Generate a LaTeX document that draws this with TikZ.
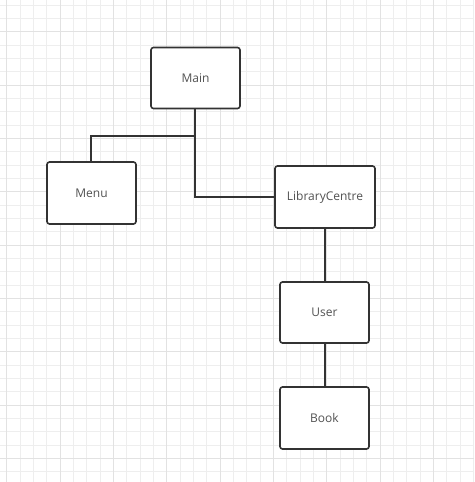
\documentclass[tikz,border=0pt]{standalone}
\usepackage{fontspec}
\setmainfont{Open Sans}
\definecolor{minorg}{HTML}{EEEEEE}
\definecolor{majorg}{HTML}{E2E2E2}
\definecolor{ink}{HTML}{333333}
\begin{document}
\begin{tikzpicture}[x=1pt,y=-1pt,
  box/.style={draw=ink,line width=1.6pt,rounded corners=2.5pt,fill=white,inner sep=0pt,font=\fontsize{12}{14}\selectfont,text=ink!85},
  link/.style={draw=ink,line width=1.6pt}]
\useasboundingbox (0,0) rectangle (474,482);
\fill[white] (0,0) rectangle (474,482);
% grid
\foreach \i in {0,...,35} {
  \pgfmathsetmacro{\xx}{6.67+13.333*\i}
  \draw[minorg,line width=0.8pt] (\xx,0) -- (\xx,482);
  \pgfmathsetmacro{\yy}{5+13.333*\i}
  \draw[minorg,line width=0.8pt] (0,\yy) -- (474,\yy);
}
\foreach \i in {0,...,9} {
  \pgfmathsetmacro{\xx}{6.67+53.333*\i}
  \draw[majorg,line width=0.9pt] (\xx,0) -- (\xx,482);
  \pgfmathsetmacro{\yy}{31.67+53.333*\i}
  \draw[majorg,line width=0.9pt] (0,\yy) -- (474,\yy);
}
% nodes
\node[box,minimum width=89pt,minimum height=61pt] (main) at (195.5,78) {Main};
\node[box,minimum width=89pt,minimum height=62pt] (menu) at (91.5,193) {Menu};
\node[box,minimum width=100pt,minimum height=62pt] (lib) at (325,197) {LibraryCentre};
\node[box,minimum width=89pt,minimum height=61pt] (user) at (324.5,312.5) {User};
\node[box,minimum width=89pt,minimum height=62pt] (book) at (324.5,418) {Book};
\coordinate (jn) at (195,136);
% connectors
\draw[link] (main.south -| jn) -- (jn) -| (menu.north -| 91,0);
\draw[link] (jn) |- (lib.west);
\draw[link] (lib.south -| 325,0) -- (user.north -| 325,0);
\draw[link] (user.south -| 325,0) -- (book.north -| 325,0);
\end{tikzpicture}
\end{document}
